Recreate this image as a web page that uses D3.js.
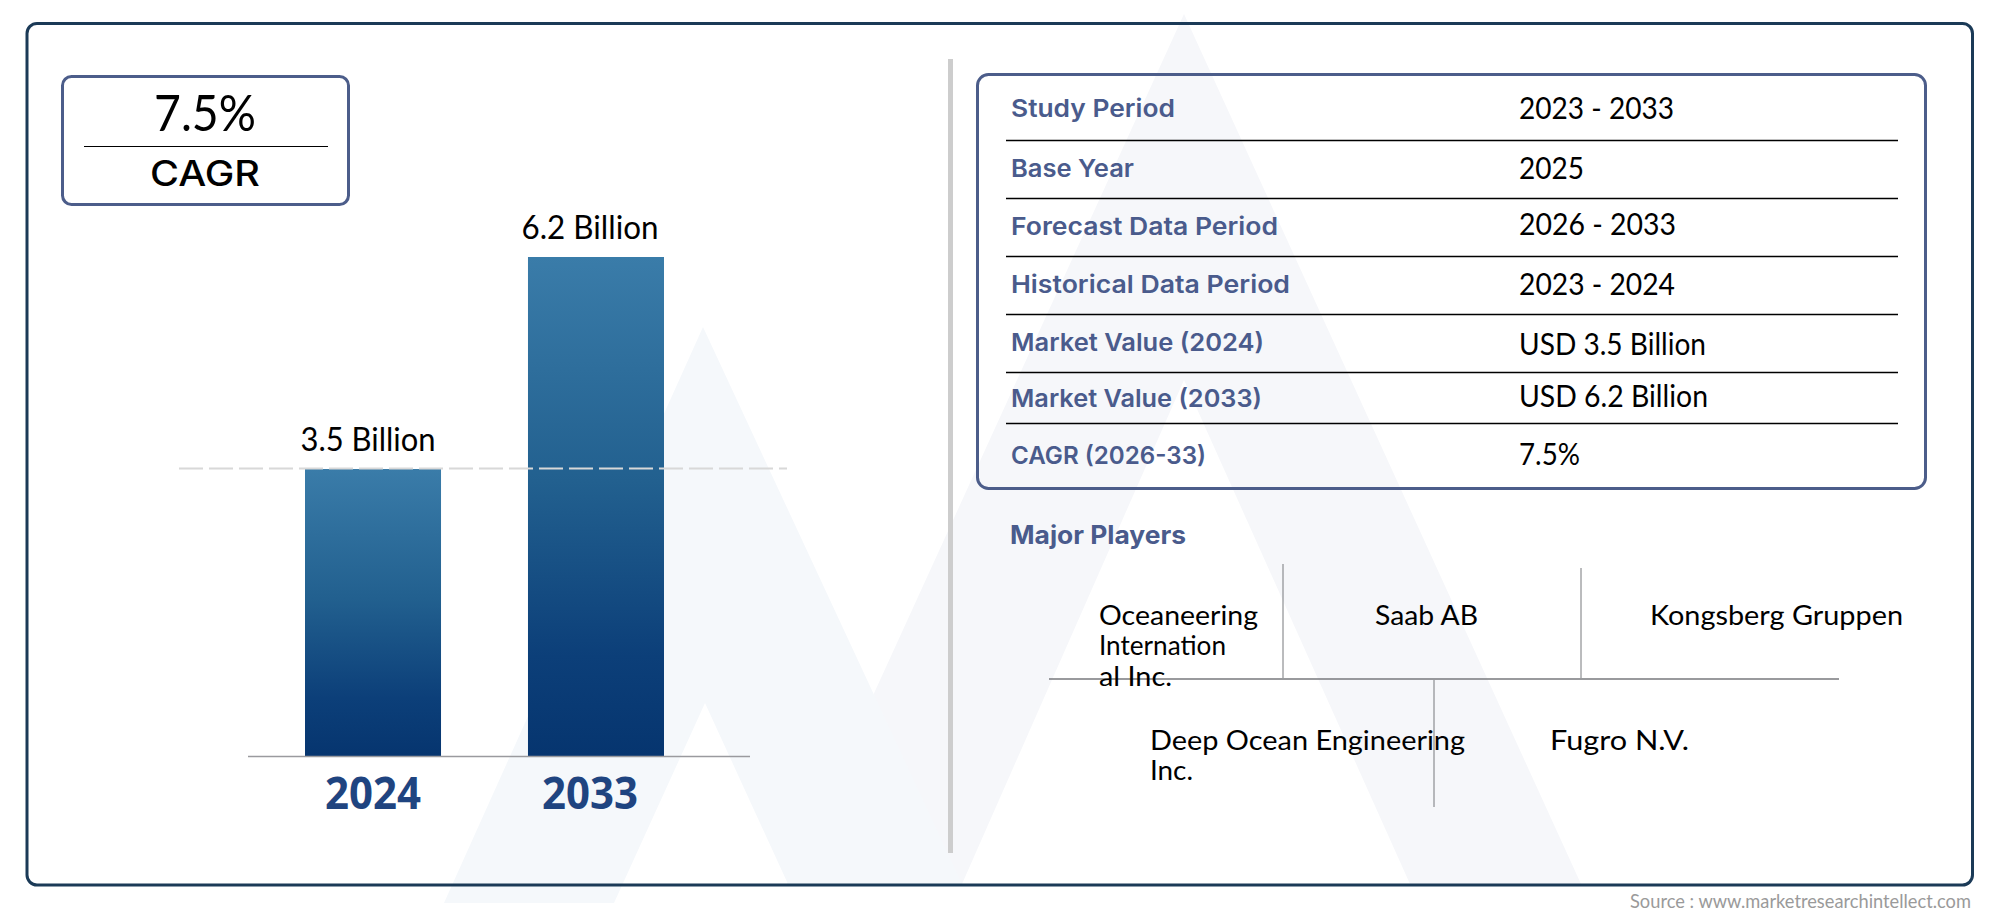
<!DOCTYPE html>
<html>
<head>
<meta charset="utf-8">
<script src="https://cdn.jsdelivr.net/npm/d3@7"></script>
<style>
  html, body { margin: 0; padding: 0; background: #fff; overflow: hidden; }
  svg { display: block; }
</style>
</head>
<body>
<script>
function createChart(){
    // chart values
    let sales = [
      {year: "2024", value: 3.5, label: "3.5 Billion", labelShift: -5, labelLen: 135, yearShift: 0},
      {year: "2033", value: 6.2, label: "6.2 Billion", labelShift: -6, labelLen: 137, yearShift: -6}
    ];

    // table rows: label, value, widths as measured, baselines
    let rows = [
      {name: "Study Period", val: "2023 - 2033", nameLen: 164, valLen: 155, nameY: 117, valY: 119, rule: 140.5},
      {name: "Base Year", val: "2025", nameLen: 123, valLen: 65, nameY: 177, valY: 179, rule: 198.5},
      {name: "Forecast Data Period", val: "2026 - 2033", nameLen: 267, valLen: 157, nameY: 235, valY: 235, rule: 256.5},
      {name: "Historical Data Period", val: "2023 - 2024", nameLen: 279, valLen: 156, nameY: 293, valY: 295, rule: 314.5},
      {name: "Market Value (2024)", val: "USD 3.5 Billion", nameLen: 253, valLen: 187, nameY: 351, valY: 355, rule: 372.5},
      {name: "Market Value (2033)", val: "USD 6.2 Billion", nameLen: 251, valLen: 189, nameY: 407, valY: 407, rule: 423.5},
      {name: "CAGR (2026-33)", val: "7.5%", nameLen: 195, valLen: 61, nameY: 464, valY: 465, rule: null}
    ];

    let players = [
      {text: "Oceaneering", x: 1099, y: 625, len: 159},
      {text: "Internation", x: 1099, y: 655, len: 127},
      {text: "al Inc.", x: 1099, y: 686, len: 73},
      {text: "Saab AB", x: 1375, y: 625, len: 103},
      {text: "Kongsberg Gruppen", x: 1650, y: 625, len: 253},
      {text: "Deep Ocean Engineering", x: 1150, y: 750, len: 315},
      {text: "Inc.", x: 1150, y: 780, len: 43},
      {text: "Fugro N.V.", x: 1550, y: 750, len: 139}
    ];

    let svg = d3.select("body").append("svg")
      .attr("width", 2000)
      .attr("height", 917);

    // same helper for every label, widths forced to what the picture shows
    function addText(sel, x, y, str, size, opts){
      opts = opts || {};
      return sel.append("text")
        .attr("x", x)
        .attr("y", y)
        .attr("font-family", opts.family || "Lato")
        .attr("font-size", size)
        .attr("font-weight", opts.weight || 400)
        .attr("fill", opts.fill || "#000")
        .attr("text-anchor", opts.anchor || "start")
        .attr("textLength", opts.len)
        .attr("lengthAdjust", "spacingAndGlyphs")
        .text(str);
    }

    // watermark behind everything
    let lineGen = d3.line();
    svg.append("path")
      .attr("fill", "#f6f7fa")
      .attr("fill-rule", "evenodd")
      .attr("d", lineGen([[1184,14],[1581,884],[787,884]]) + "Z " + lineGen([[1184,380],[1410,884],[962,884]]) + "Z");
    svg.append("path")
      .attr("fill", "#f5f8fb")
      .attr("d", lineGen([[703,327],[962,884],[788,884],[705,703],[614,903],[444,903]]) + "Z");

    // outer frame
    svg.append("rect")
      .attr("x", 27).attr("y", 23.5)
      .attr("width", 1945.5).attr("height", 861.5)
      .attr("rx", 10)
      .attr("fill", "none")
      .attr("stroke", "#1b3a57")
      .attr("stroke-width", 3);

    // CAGR box
    svg.append("rect")
      .attr("x", 62.5).attr("y", 76.5)
      .attr("width", 286).attr("height", 128)
      .attr("rx", 9)
      .attr("fill", "#fff")
      .attr("stroke", "#4c5d8a")
      .attr("stroke-width", 3);
    svg.append("line")
      .attr("x1", 84).attr("x2", 328)
      .attr("y1", 146.5).attr("y2", 146.5)
      .attr("stroke", "#000").attr("stroke-width", 1);
    addText(svg, 205, 131, "7.5%", 50, {anchor: "middle", len: 102});
    addText(svg, 205, 186, "CAGR", 35, {family: "Inter", weight: 500, anchor: "middle", len: 110});

    // bars
    let x = d3.scaleBand()
      .domain(sales.map(function(d) { return d.year; }))
      .range([305, 664])
      .paddingInner(0.39)
      .paddingOuter(0);

    // baseline sits a little under zero: in the picture 3.5 is drawn slightly taller than its share of 6.2
    let y = d3.scaleLinear()
      .domain([-0.155, 6.2])
      .range([756, 257]);

    let defs = svg.append("defs");
    let grad = defs.append("linearGradient")
      .attr("id", "barGrad")
      .attr("x1", 0).attr("x2", 0)
      .attr("y1", 0).attr("y2", 1);
    grad.append("stop").attr("offset", "0%").attr("stop-color", "#3a7ca9");
    grad.append("stop").attr("offset", "45%").attr("stop-color", "#22608f");
    grad.append("stop").attr("offset", "80%").attr("stop-color", "#0c3f79");
    grad.append("stop").attr("offset", "100%").attr("stop-color", "#06356f");

    svg.selectAll(".bar")
      .data(sales)
      .enter()
      .append("rect")
      .attr("class", "bar")
      .attr("x", function(d) { return x(d.year); })
      .attr("width", x.bandwidth())
      .attr("y", function(d) { return y(d.value); })
      .attr("height", function(d) { return y(-0.155) - y(d.value); })
      .attr("fill", "url(#barGrad)");

    sales.forEach(function(d){
      addText(svg, x(d.year) + x.bandwidth()/2 + d.labelShift, y(d.value) - 18, d.label, 32, {anchor: "middle", len: d.labelLen});
    });

    // dashed reference line at the 2024 value
    svg.append("line")
      .attr("x1", 179).attr("x2", 787)
      .attr("y1", y(3.5) - 0.5).attr("y2", y(3.5) - 0.5)
      .attr("stroke", "#d8d8d8")
      .attr("stroke-width", 2)
      .attr("stroke-dasharray", "24 6");

    // x axis
    let xaxis = svg.append("g")
      .attr("transform", "translate(0,756)")
      .call(d3.axisBottom(x).tickSize(0).tickPadding(0))
      .call(g => g.select(".domain").remove());
    xaxis.selectAll("text")
      .data(sales)
      .attr("dx", function(d) { return d.yearShift; })
      .attr("y", 53)
      .attr("dy", 0)
      .attr("font-family", "Open Sans")
      .attr("font-size", 45)
      .attr("font-weight", 700)
      .attr("fill", "#1f4480")
      .attr("textLength", 96)
      .attr("lengthAdjust", "spacingAndGlyphs");
    svg.append("line")
      .attr("x1", 248).attr("x2", 750)
      .attr("y1", 756.5).attr("y2", 756.5)
      .attr("stroke", "#9a9a9e")
      .attr("stroke-width", 1.5);

    // divider
    svg.append("rect")
      .attr("x", 948).attr("y", 59)
      .attr("width", 5).attr("height", 794)
      .attr("fill", "#cdcdcd");

    // info table
    svg.append("rect")
      .attr("x", 977.5).attr("y", 74.5)
      .attr("width", 948).attr("height", 414)
      .attr("rx", 11)
      .attr("fill", "none")
      .attr("stroke", "#4c5d8a")
      .attr("stroke-width", 3);

    rows.forEach(function(d){
      addText(svg, 1011, d.nameY, d.name, 24.5, {family: "Inter", weight: 600, fill: "#4a5b8c", len: d.nameLen});
      addText(svg, 1519, d.valY, d.val, 30, {len: d.valLen});
      if (d.rule !== null) {
        svg.append("line")
          .attr("x1", 1006).attr("x2", 1898)
          .attr("y1", d.rule).attr("y2", d.rule)
          .attr("stroke", "#000").attr("stroke-width", 1.3);
      }
    });

    // major players block
    addText(svg, 1010, 544, "Major Players", 25.5, {family: "Inter", weight: 700, fill: "#4a5b8c", len: 176});

    svg.append("line").attr("x1", 1049).attr("x2", 1839).attr("y1", 679).attr("y2", 679)
      .attr("stroke", "#77797d").attr("stroke-width", 1.5);
    [[1283, 564, 678], [1581, 568, 678], [1434, 680, 807]].forEach(function(v){
      svg.append("line").attr("x1", v[0]).attr("x2", v[0]).attr("y1", v[1]).attr("y2", v[2])
        .attr("stroke", "#77797d").attr("stroke-width", 1);
    });

    players.forEach(function(d){
      addText(svg, d.x, d.y, d.text, 27, {len: d.len});
    });

    addText(svg, 1630, 908, "Source : www.marketresearchintellect.com", 19, {fill: "#9a9a9a", len: 341});
}
createChart();
</script>
</body>
</html>
